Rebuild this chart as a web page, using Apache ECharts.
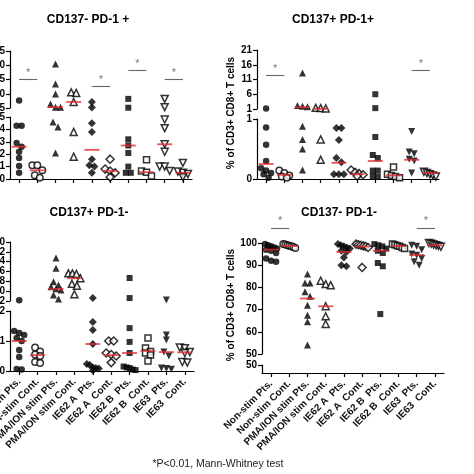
<!DOCTYPE html>
<html>
<head>
<meta charset="utf-8">
<script src="https://cdn.jsdelivr.net/npm/echarts@6/dist/echarts.min.js"></script>
<style>html,body{margin:0;padding:0;background:#fff}#chart{width:474px;height:474px}</style>
</head>
<body>
<div id="chart"></div>
<script>
// 分组
const categories = ['Non-stim Pts.', 'Non-stim Cont.', 'PMA/ION stim Pts.', 'PMA/ION stim Cont.', 'IE62 A  Pts.', 'IE62 A  Cont.', 'IE62 B  Pts.', 'IE62 B  Cont.', 'IE63  Pts.', 'IE63  Cont.'];
const titles = ['CD137- PD-1 +', 'CD137+ PD-1+', 'CD137+ PD-1-', 'CD137- PD-1-'];
const yTitle = '% of CD3+ CD8+ T cells';
const footnote = '*P<0.01, Mann-Whitney test';

// CD137- PD-1 +
const tlValues = [
	[7.6, 4.3, 4.3, 2.9, 2.6, 2.2, 1.7, 1.05, 0.5],
	[1.1, 1.1, 0.7, 0.3, 0.1],
	[20.4, 13.4, 9.9, 6.4, 5.3, 5.3, 4.6, 4.2, 2.1],
	[10.5, 10.3, 7.1, 3.8, 1.8],
	[7.1, 5.2, 4.5, 3.8, 1.6, 1.1, 1.0, 0.5],
	[1.6, 0.8, 0.65, 0.5, 0.15],
	[8.2, 5.1, 3.2, 2.7, 2.1, 1.0, 0.5, 0.5],
	[1.55, 0.65, 0.55, 0.25],
	[8.2, 5.3, 4.8, 4.1, 2.8, 2.2, 1.0, 1.0, 0.65],
	[1.3, 0.6, 0.5, 0.4, 0.15]
];
const tlMedians = [2.6, 0.7, 5.3, 7.1, 2.35, 0.65, 2.7, 0.55, 2.8, 0.5];
const tlLower = [0, 5, 1];
const tlUpper = [5, 25, 5];
const tlSig = [[0, 1, 15], [4, 5, 12.5], [6, 7, 18.3], [8, 9, 15]];

// CD137+ PD-1+
const trValues = [
	[1.2, 0.86, 0.57, 0.3, 0.18, 0.14, 0.1, 0.08, 0.02],
	[0.14, 0.1, 0.06, 0.04, 0.02],
	[13.2, 2.2, 1.9, 1.8, 0.88, 0.66, 0.5, 0.15],
	[1.4, 1.3, 1.2, 0.66, 0.32],
	[0.85, 0.85, 0.65, 0.35, 0.28, 0.08, 0.08, 0.08],
	[0.15, 0.11, 0.09, 0.07, 0.05],
	[6.0, 1.3, 0.7, 0.4, 0.35, 0.14, 0.14, 0.05, 0.04],
	[0.2, 0.08, 0.06, 0.04, 0.02],
	[0.79, 0.45, 0.42, 0.33, 0.3, 0.1],
	[0.12, 0.1, 0.08, 0.06, 0.04]
];
const trMedians = [0.25, 0.07, 1.6, 1.05, 0.27, 0.08, 0.3, 0.06, 0.32, 0.1];
const trLower = [0, 1, 1];
const trUpper = [1, 21, 5];
const trSig = [[0, 1, 12.5], [8, 9, 14.2]];

// CD137+ PD-1-
const blValues = [
	[2.6, 1.33, 1.27, 1.2, 1.1, 1.0, 0.7, 0.47, 0.07, 0.05],
	[0.78, 0.65, 0.55, 0.5, 0.3, 0.27],
	[37, 28.6, 17.7, 15, 13.6, 12, 11, 6.9, 3.6],
	[24.5, 24.5, 24, 20.5, 16, 14.5, 7.5],
	[4.4, 1.63, 1.37, 0.9, 0.23, 0.2, 0.12, 0.1, 0.08, 0.02],
	[1.0, 1.0, 0.6, 0.55, 0.5, 0.28],
	[20.7, 4.4, 1.43, 0.97, 0.6, 0.15, 0.12, 0.1, 0.05, 0.03],
	[1.1, 0.77, 0.65, 0.6, 0.53, 0.33],
	[2.8, 1.2, 1.03, 0.63, 0.5, 0.1, 0.08, 0.06],
	[0.78, 0.76, 0.63, 0.6, 0.3, 0.28]
];
const blMedians = [1.0, 0.53, 11.8, 20.5, 0.9, 0.53, 0.6, 0.67, 0.63, 0.62];
const blLower = [0, 2, 1];
const blUpper = [2, 50, 8];
const blSig = [];

// CD137- PD-1-
const brValues = [
	[99.5, 99, 98.5, 98, 97.5, 97, 96.5, 95.5, 93, 92, 91.5],
	[99.6, 99.3, 99, 98.8, 98.5, 98.2, 97.8],
	[86, 82, 82, 78, 76, 72, 67.5, 64.5, 54],
	[83, 81.5, 81, 71.5, 67, 63.5],
	[99.5, 99, 98.5, 98, 97.5, 96.5, 96, 93.5, 90, 89.5],
	[99.5, 99.2, 99, 98.7, 98.4, 98, 89],
	[99.5, 99, 98.5, 97.5, 96.5, 95.5, 91, 89.5, 68],
	[99.5, 99.2, 98.8, 98.5, 98, 97.5],
	[99, 98.5, 97, 95, 94.5, 93, 91.5, 90],
	[100, 99.7, 99.3, 99, 98.7, 98.3]
];
const brMedians = [97, 98.6, 75, 71.5, 96, 98.4, 96.5, 98.6, 94.6, 99];
const brLower = [0, 50, 50];
const brUpper = [50, 100, 10];
const brSig = [[0, 1, 106.8], [8, 9, 106.8]];
const brSigRange = [100, 110];

// 符号
const SYMBOLS = [
	{ symbol: 'circle', size: 6.5 }, { symbol: 'circle', size: 6.5, hollow: true },
	{ symbol: 'triangle', size: 7 }, { symbol: 'triangle', size: 7, hollow: true },
	{ symbol: 'diamond', size: 8 }, { symbol: 'diamond', size: 8, hollow: true },
	{ symbol: 'rect', size: 6 }, { symbol: 'rect', size: 6, hollow: true },
	{ symbol: 'triangle', size: 7, rotate: 180 }, { symbol: 'triangle', size: 7, rotate: 180, hollow: true }
];
const FONT = 'Liberation Sans';

const panels = [
	{ values: tlValues, medians: tlMedians, lower: tlLower, upper: tlUpper, sig: tlSig,
		left: 10, width: 182, upperPx: [51, 108], lowerPx: [117, 179], xLabels: false, hollow: [8] },
	{ values: trValues, medians: trMedians, lower: trLower, upper: trUpper, sig: trSig,
		left: 257, width: 182, upperPx: [50, 109], lowerPx: [119, 179], xLabels: false, hollow: [] },
	{ values: blValues, medians: blMedians, lower: blLower, upper: blUpper, sig: blSig,
		left: 10, width: 184, upperPx: [242, 301], lowerPx: [311, 371], xLabels: true, hollow: [] },
	{ values: brValues, medians: brMedians, lower: brLower, upper: brUpper, sig: brSig, sigRange: brSigRange,
		left: 262, width: 182, upperPx: [243, 354], lowerPx: [365, 373], xLabels: true, hollow: [] }
];

// 同一组内数值相近的点左右错开
function spread(vals, ppu) {
	const sorted = vals.slice().sort((a, b) => b - a);
	const out = [];
	let group = [];
	const flush = () => {
		const n = group.length;
		const step = n > 1 ? Math.min(5, 12 / (n - 1)) : 0;
		group.forEach((v, i) => out.push([v, (i - (n - 1) / 2) * step]));
		group = [];
	};
	sorted.forEach(v => {
		if (group.length && (group[0] - v) * ppu > 5) flush();
		group.push(v);
	});
	flush();
	return out;
}

const grid = [], xAxis = [], yAxis = [], series = [];

function yAxisOf(gi, range) {
	return {
		type: 'value', gridIndex: gi, min: range[0], max: range[1], interval: range[2],
		axisLine: { show: true, lineStyle: { color: '#000', width: 1.2 } },
		axisTick: { show: true, length: 4, lineStyle: { color: '#000', width: 1.2 } },
		axisLabel: { fontSize: 10, fontWeight: 'bold', color: '#000', margin: 5, fontFamily: FONT },
		splitLine: { show: false }
	};
}

function sigLine(sig) {
	return {
		silent: true, animation: false, symbol: ['none', 'none'],
		lineStyle: { color: '#666', width: 1.1, type: 'solid' },
		label: { show: true, formatter: '*', position: 'middle', color: '#777', fontSize: 11, distance: 1 },
		data: sig.map(s => [{ coord: [s[0], s[2]] }, { coord: [s[1], s[2]] }])
	};
}

function gridOf(p, top, height) {
	return { left: p.left, width: p.width, top: top, height: height, containLabel: false, outerBoundsMode: 'none' };
}

panels.forEach(p => {
	const segs = [
		{ range: p.upper, px: p.upperPx, isUpper: true },
		{ range: p.lower, px: p.lowerPx, isUpper: false }
	];
	segs.forEach(s => {
		const gi = grid.length;
		grid.push(gridOf(p, s.px[0], s.px[1] - s.px[0]));
		xAxis.push(s.isUpper ? { type: 'category', gridIndex: gi, data: categories, show: false } : {
			type: 'category', gridIndex: gi, data: categories,
			axisLine: { show: true, lineStyle: { color: '#000', width: 1.2 } },
			axisTick: { show: true, alignWithLabel: true, length: 4, lineStyle: { color: '#000', width: 1.2 } },
			axisLabel: { show: p.xLabels, interval: 0, rotate: 45, fontSize: 10, fontWeight: 'bold', color: '#111', margin: 9, fontFamily: FONT }
		});
		yAxis.push(yAxisOf(gi, s.range));
		const ppu = (s.px[1] - s.px[0]) / (s.range[1] - s.range[0]);
		const inSeg = v => s.isUpper ? v > p.lower[1] : v <= p.lower[1];
		const pts = [];
		p.values.forEach((vals, ci) => {
			const sym = SYMBOLS[ci];
			const hollow = sym.hollow || p.hollow.indexOf(ci) >= 0;
			spread(vals.filter(inSeg), ppu).forEach(([v, off]) => {
				pts.push({
					value: [ci, v], symbol: sym.symbol, symbolSize: sym.size, symbolRotate: sym.rotate || 0,
					symbolOffset: [off, 0],
					itemStyle: hollow ? { color: '#fff', borderColor: '#000', borderWidth: 1.5 } : { color: '#000', borderWidth: 0 }
				});
			});
		});
		series.push({
			type: 'scatter', xAxisIndex: gi, yAxisIndex: gi, data: pts, clip: false, z: 3, silent: true, animation: false,
			markLine: s.isUpper && !p.sigRange && p.sig.length ? sigLine(p.sig) : undefined
		});
		// 中位数
		series.push({
			type: 'scatter', xAxisIndex: gi, yAxisIndex: gi, clip: false, z: 5, silent: true, animation: false,
			symbol: 'rect', symbolSize: [15, 1.8], itemStyle: { color: '#e2282e' },
			data: p.medians.map((m, ci) => [ci, m]).filter(d => inSeg(d[1]))
		});
	});
	if (p.sigRange) {
		// 轴上方的显著性标记
		const gi = grid.length;
		const ppu = (p.upperPx[1] - p.upperPx[0]) / (p.upper[1] - p.upper[0]);
		const h = (p.sigRange[1] - p.sigRange[0]) * ppu;
		grid.push(gridOf(p, p.upperPx[0] - h, h));
		xAxis.push({ type: 'category', gridIndex: gi, data: categories, show: false });
		yAxis.push({ type: 'value', gridIndex: gi, min: p.sigRange[0], max: p.sigRange[1], show: false });
		series.push({ type: 'scatter', xAxisIndex: gi, yAxisIndex: gi, data: [], silent: true, animation: false, markLine: sigLine(p.sig) });
	}
});

const titleStyle = { fontSize: 12, fontWeight: 'bold', color: '#000', fontFamily: FONT };
const option = {
	backgroundColor: '#fff',
	animation: false,
	title: [
		{ text: titles[0], left: 83, top: 9, textAlign: 'center', textStyle: titleStyle },
		{ text: titles[1], left: 328, top: 9, textAlign: 'center', textStyle: titleStyle },
		{ text: titles[2], left: 84, top: 202, textAlign: 'center', textStyle: titleStyle },
		{ text: titles[3], left: 334, top: 202, textAlign: 'center', textStyle: titleStyle }
	],
	graphic: [
		{ type: 'text', x: 231, y: 113, rotation: Math.PI / 2, silent: true,
			style: { text: yTitle, textAlign: 'center', textVerticalAlign: 'middle', font: 'bold 10px "Liberation Sans"', fill: '#000' } },
		{ type: 'text', x: 231, y: 305, rotation: Math.PI / 2, silent: true,
			style: { text: yTitle, textAlign: 'center', textVerticalAlign: 'middle', font: 'bold 10px "Liberation Sans"', fill: '#000' } },
		{ type: 'text', x: 218, y: 464, silent: true,
			style: { text: footnote, textAlign: 'center', textVerticalAlign: 'middle', font: '10.5px "Liberation Sans"', fill: '#222' } }
	],
	grid: grid,
	xAxis: xAxis,
	yAxis: yAxis,
	series: series
};

const chart = echarts.init(document.getElementById('chart'));
chart.setOption(option);
</script>
</body>
</html>
